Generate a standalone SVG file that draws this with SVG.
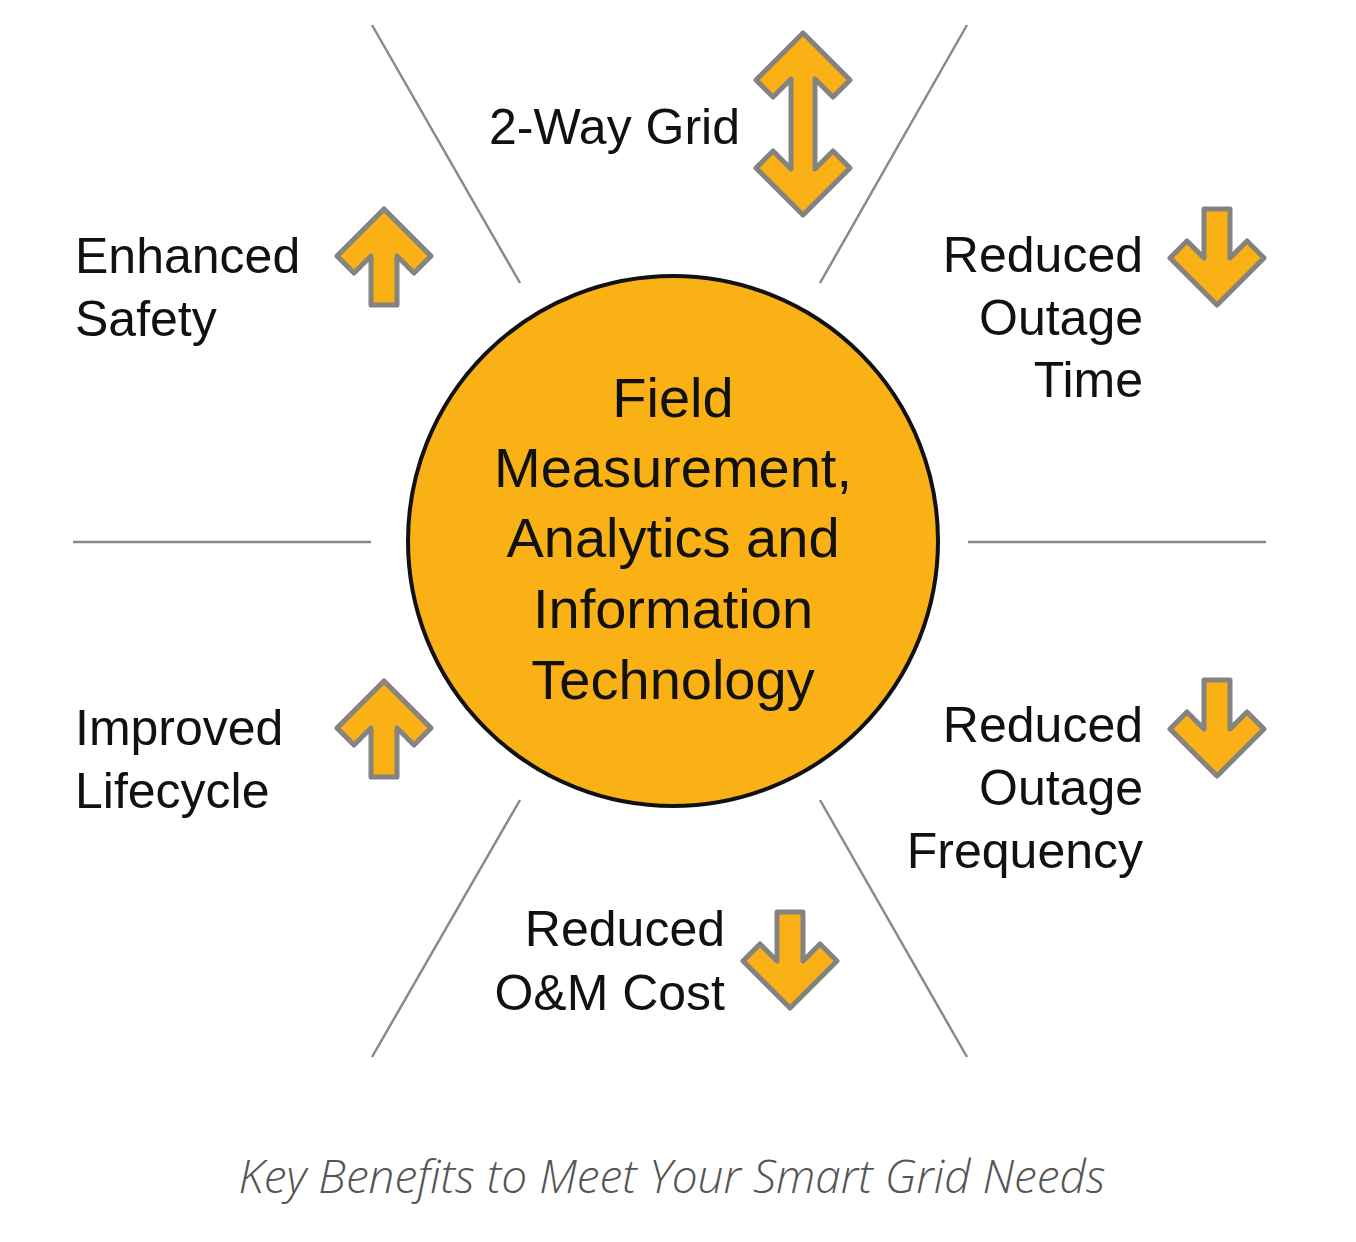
<svg xmlns="http://www.w3.org/2000/svg" xmlns:xlink="http://www.w3.org/1999/xlink" width="1356" height="1242" viewBox="0 0 1356 1242">
<style>
.ln{stroke:#8a8a8a;stroke-width:2.5;fill:none}
.ar{fill:#F9B116;stroke:#858380;stroke-width:5;stroke-linejoin:round}
.t{font-family:"Liberation Sans",Arial,sans-serif;font-size:50px;fill:#111}
.r{text-anchor:end}
.c{font-family:"Liberation Sans",Arial,sans-serif;font-size:56px;fill:#111;text-anchor:middle}
.cap{font-family:"Open Sans","Liberation Sans",sans-serif;font-style:italic;font-size:46px;fill:#555;text-anchor:middle;font-weight:300}
</style>
<defs>
<polygon id="arr" class="ar" points="0,0 47,47 30,64 13,47 13,96 -13,96 -13,47 -30,64 -47,47"/>
</defs>
<rect width="1356" height="1242" fill="#fff"/>
<g id="connectors">
<line class="ln" x1="372" y1="25" x2="520" y2="283"/>
<line class="ln" x1="967" y1="25" x2="820" y2="283"/>
<line class="ln" x1="73" y1="542" x2="371" y2="542"/>
<line class="ln" x1="968" y1="542" x2="1266" y2="542"/>
<line class="ln" x1="520" y1="800" x2="372" y2="1057"/>
<line class="ln" x1="820" y1="800" x2="967" y2="1057"/>
</g>
<g id="center">
<circle cx="673" cy="541" r="265" fill="#F9B116" stroke="#111" stroke-width="4"/>
<text class="c" x="673" y="417">Field</text>
<text class="c" x="673" y="487">Measurement,</text>
<text class="c" x="673" y="557">Analytics and</text>
<text class="c" x="673" y="628">Information</text>
<text class="c" x="673" y="699">Technology</text>
</g>
<g id="twoway">
<polygon class="ar" points="803,33 850,80 833,97 815,79 815,169 833,151 850,168 803,215 756,168 773,151 791,169 791,79 773,97 756,80"/>
<text class="t r" x="740" y="144">2-Way Grid</text>
</g>
<g id="safety">
<use xlink:href="#arr" transform="translate(384,209)"/>
<text class="t" x="75" y="273">Enhanced</text>
<text class="t" x="75" y="336">Safety</text>
</g>
<g id="lifecycle">
<use xlink:href="#arr" transform="translate(384,681)"/>
<text class="t" x="75" y="745">Improved</text>
<text class="t" x="75" y="808">Lifecycle</text>
</g>
<g id="outagetime">
<use xlink:href="#arr" transform="translate(1217,305) rotate(180)"/>
<text class="t r" x="1143" y="272">Reduced</text>
<text class="t r" x="1143" y="335">Outage</text>
<text class="t r" x="1143" y="397">Time</text>
</g>
<g id="outagefreq">
<use xlink:href="#arr" transform="translate(1217,776) rotate(180)"/>
<text class="t r" x="1143" y="742">Reduced</text>
<text class="t r" x="1143" y="805">Outage</text>
<text class="t r" x="1143" y="868">Frequency</text>
</g>
<g id="omcost">
<use xlink:href="#arr" transform="translate(790,1008) rotate(180)"/>
<text class="t r" x="725" y="946">Reduced</text>
<text class="t r" x="725" y="1010">O&amp;M Cost</text>
</g>
<text class="cap" x="672" y="1193">Key Benefits to Meet Your Smart Grid Needs</text>
</svg>
